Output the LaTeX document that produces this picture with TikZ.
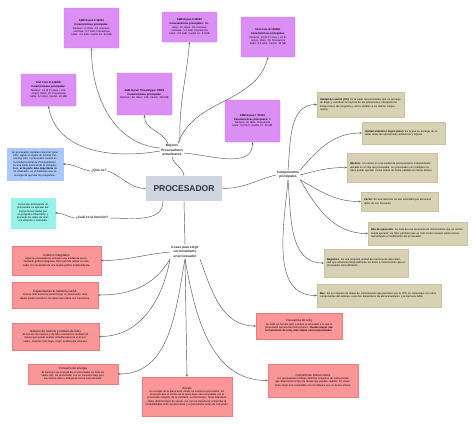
\documentclass[tikz,border=0pt]{standalone}
\usepackage{fontspec}
\setmainfont{Liberation Sans}
\usetikzlibrary{arrows.meta}
\definecolor{purpc}{RGB}{219,143,245}
\definecolor{purpd}{RGB}{196,118,228}
\definecolor{bluec}{RGB}{170,201,250}
\definecolor{cyanc}{RGB}{150,242,232}
\definecolor{tanc}{RGB}{216,210,181}
\definecolor{tand}{RGB}{200,193,160}
\definecolor{redc}{RGB}{250,150,152}
\definecolor{redd}{RGB}{236,122,124}
\definecolor{procc}{RGB}{206,213,223}
\definecolor{proct}{RGB}{45,55,70}
\definecolor{linec}{RGB}{85,85,85}
\tikzset{
  con/.style={draw=linec, line width=0.45pt, -{Stealth[length=2.4pt,width=2pt]}},
  lnk/.style={draw=linec, line width=0.45pt},
  txt/.style={font=\fontsize{2.6}{3.3}\selectfont},
  boxbase/.style={txt, rectangle, line width=0.3pt, inner xsep=3pt, inner ysep=1pt},
  pbox/.style={boxbase, fill=purpc, draw=purpd, rounded corners=0.8pt, align=center},
  bbox/.style={boxbase, fill=bluec, draw=bluec, align=center},
  cbox/.style={boxbase, fill=cyanc, draw=cyanc, align=center},
  tbox/.style={boxbase, fill=tanc, draw=tand, align=left},
  rbox/.style={boxbase, fill=redc, draw=redd, align=center},
  hub/.style={font=\fontsize{3.3}{4.2}\selectfont\bfseries, text=black!85, align=center, inner sep=1pt},
}
\begin{document}
\begin{tikzpicture}[x=1pt,y=-1pt]
\useasboundingbox (0,0) rectangle (474,424);
\fill[white] (0,0) rectangle (474,424);

% central
\node[fill=procc, minimum width=76pt, minimum height=25pt, inner sep=0pt,
      font=\fontsize{8.5}{9}\selectfont\bfseries, text=proct] (proc) at (184,188.5) {PROCESADOR};

% hubs
\node[hub] (mej) at (172,150) {Mejores\\Procesadores\\actualmente};
\node[hub] (que) at (99,171) {¿Qué es?};
\node[hub] (cual) at (92,218) {¿Cuál es la función?};
\node[hub] (comp) at (288,175) {Componentes\\principales};
\node[hub] (cosas) at (185,252) {Cosas para elegir\\correctamente\\un procesador};

% purple boxes
\node[pbox, text width=49pt, minimum height=40pt] (p1) at (91.5,28)
 {\textbf{AMD Ryzen 5 5600X}\\[0.6pt]\textbf{Características principales:}\\Núcleos: 6, Hilos: 12, Frecuencia base: 3.7 GHz, Frecuencia turbo: 4.6 GHz, Caché L3: 32 MB};
\node[pbox, text width=49pt, minimum height=30pt] (p2) at (189.5,27)
 {\textbf{AMD Ryzen 9 5950X}\\[0.6pt]\textbf{Características principales:} Núcleos: 16, Hilos: 32, Frecuencia base: 3.4 GHz, Frecuencia turbo: 4.9 GHz, Caché L3: 64 MB};
\node[pbox, text width=48pt, minimum height=40pt] (p3) at (268,37)
 {\textbf{Intel Core i9-14900K}\\[0.6pt]\textbf{Características principales:}\\Núcleos: 24 (8 P-cores + 16 E-cores), Hilos: 32, Frecuencia turbo: 6.0 GHz, Caché: 36 MB};
\node[pbox, text width=49pt, minimum height=32pt] (p4) at (48.5,90)
 {\textbf{Intel Core i5-14600K}\\[0.6pt]\textbf{Características principales:}\\Núcleos: 14 (6 P-cores + 8 E-cores), Hilos: 20, Frecuencia turbo: 5.3 GHz, Caché: 24 MB};
\node[pbox, text width=49pt, minimum height=42pt] (p5) at (144.5,94)
 {\textbf{AMD Ryzen Threadripper 7980X}\\[0.6pt]\textbf{Características principales:}\\Núcleos: 64, Hilos: 128, Caché: 256 MB};
\node[pbox, text width=49pt, minimum height=42pt] (p6) at (252.5,121)
 {\textbf{AMD Ryzen 7 5700X}\\[0.6pt]\textbf{Características principales:} 8 Núcleos, 16 Hilos, Frecuencia base: 3.4 GHz, Caché L3: 32 MB};

% left boxes
\node[bbox, text width=50pt, minimum height=32pt] (blue) at (35,164)
 {Un procesador, también conocido como CPU, siglas en inglés de Central Processing Unit, o procesador central es la Unidad Central de Procesamiento, es una parte esencial de la computadora, \textbf{es la parte más importante} de un ordenador, es el hardware que se encarga de ejecutar los programas.};
\node[cbox, text width=38pt, minimum height=30pt] (cyan) at (33,213)
 {La función principal de un procesador es ejecutar las instrucciones dadas por un programa informático y procesar los datos de manera eficiente y ordenada.};

% tan boxes
\node[tbox, text width=81pt, minimum height=25pt] (t1) at (360.5,104.5)
 {\textbf{Unidad de control (UC):} Es la parte del procesador que se encarga de dirigir y coordinar la mayoría de las operaciones, interpreta las instrucciones del programa y envía señales a los demás componentes.};
\node[tbox, text width=77pt, minimum height=22pt] (t2) at (403.5,133)
 {\textbf{Unidad aritmético lógica (ALU):} Es la que se encarga de realizar todas las operaciones aritméticas y lógicas.};
\node[tbox, text width=84pt, minimum height=29pt] (t3) at (392,167.5)
 {\textbf{Núcleos:} Un núcleo es una unidad de procesamiento independiente ubicada en el chip del procesador. Un procesador con múltiples núcleos puede ejecutar varias tareas de forma paralela al mismo tiempo.};
\node[tbox, text width=71pt, minimum height=19pt] (t4) at (399.5,201.5)
 {\textbf{Caché:} Es una memoria de alta velocidad que almacena datos de uso frecuente.};
\node[tbox, text width=93pt, minimum height=23pt] (t5) at (417.5,233.5)
 {\textbf{Hilo de ejecución:} Se trata de una secuencia de instrucciones que un núcleo puede ejecutar; los hilos permiten que un solo núcleo maneje varias tareas, aumentando el rendimiento del procesador.};
\node[tbox, text width=78pt, minimum height=28pt] (t6) at (366,263)
 {\textbf{Registros:} Es una pequeña unidad de memoria de alta velocidad que almacena temporalmente los datos e instrucciones que el procesador está utilizando.};
\node[tbox, text width=118pt, minimum height=23pt] (t7) at (379,295.5)
 {\textbf{Bus:} Es un conjunto de líneas de comunicación que permiten que la CPU se comunique con otros componentes del sistema, como los dispositivos de almacenamiento y la memoria RAM.};

% red boxes
\node[rbox, text width=83pt, minimum height=29pt] (r1) at (56.5,260.5)
 {\fontsize{3}{3.6}\selectfont Gráficos integrados\\\fontsize{2.6}{3.3}\selectfont Algunos procesadores incluyen una unidad de procesamiento gráfico integrada. Esto permite utilizar el ordenador sin necesidad de una tarjeta gráfica independiente.};
\node[rbox, text width=80pt, minimum height=26pt] (r2) at (55,295)
 {\fontsize{3}{3.6}\selectfont Capacidad de la memoria caché\\\fontsize{2.6}{3.3}\selectfont Cuanta más memoria caché tenga un procesador, más rápido podrá acceder a los datos que utiliza con frecuencia.};
\node[rbox, text width=81pt, minimum height=27pt] (r3) at (55.5,336.5)
 {\fontsize{3}{3.6}\selectfont Número de núcleos y número de hilos\\\fontsize{2.6}{3.3}\selectfont El número de núcleos y de hilos marcará la cantidad de tareas que puede realizar simultáneamente el procesador. Cuantos más haya, mejor rendimiento ofrecerá.};
\node[rbox, text width=84pt, minimum height=20pt] (r4) at (73,374)
 {\fontsize{3}{3.6}\selectfont Consumo de energía\\\fontsize{2.6}{3.3}\selectfont El consumo de energía de un procesador se mide en vatios (W). Un procesador con un consumo bajo genera menos calor y trabaja de forma más eficiente.};
\node[rbox, text width=84pt, minimum height=39pt] (r5) at (187,396.5)
 {\fontsize{3}{3.6}\selectfont Zócalo\\\fontsize{2.6}{3.3}\selectfont Es el lugar de la placa base donde se coloca el procesador. Es necesario que el zócalo de la placa base sea compatible con el procesador elegido; de lo contrario, no funcionará. Cada fabricante utiliza distintos tipos de zócalo, por eso es importante comprobar la compatibilidad entre la placa base y el procesador antes de comprarlo.};
\node[rbox, text width=80pt, minimum height=26pt] (r6) at (299,326)
 {\fontsize{3}{3.6}\selectfont Frecuencia de reloj\\\fontsize{2.6}{3.3}\selectfont Se mide en hercios (Hz) e indica la velocidad a la que el procesador ejecuta las instrucciones. \textbf{Cuanto mayor sea la frecuencia de reloj, más rápido será el procesador.}};
\node[rbox, text width=84pt, minimum height=33pt] (r7) at (313,380.5)
 {\fontsize{3}{3.6}\selectfont Conjunto de instrucciones\\\fontsize{2.6}{3.3}\selectfont Los procesadores utilizan distintos conjuntos de instrucciones que determinan el tipo de tareas que pueden realizar. Es importante elegir uno compatible con el software que se desea utilizar.};

% connectors from central
\draw[lnk] (proc.north) to[out=95,in=-80] (mej.south);
\draw[lnk] (proc.west) to[out=180,in=-20] (que.east);
\draw[lnk] ([xshift=-21pt]proc.south) to[out=-90,in=0] (cual.east);
\draw[lnk] (proc.east) to[out=0,in=195] (comp.west);
\draw[lnk] (proc.south) -- (cosas.north);

% mejores
\draw[con] ([yshift=2pt]mej.west) to[out=175,in=-90] (p1.south);
\draw[con] ([xshift=8pt]mej.north) to[out=92,in=-95] (p2.south);
\draw[con] ([xshift=6pt]mej.north) to[out=70,in=-105] (p3.south);
\draw[con] ([yshift=-1pt]mej.west) to[out=190,in=-80] (p4.south);
\draw[con] ([xshift=-4pt]mej.north) to[out=115,in=-90] (p5.south);
\draw[con] ([yshift=-3pt]mej.east) to[out=-5,in=-90] (p6.south);

% que / cual
\draw[con] (que.west) to[out=170,in=0] (blue.east);
\draw[con] (cual.west) to[out=170,in=0] (cyan.east);

% componentes
\draw[con] (comp.north) to[out=85,in=180] (t1.west);
\draw[con] (comp.north east) to[out=50,in=180] (t2.west);
\draw[con] (comp.east) to[out=15,in=180] (t3.west);
\draw[con] (comp.south east) to[out=-30,in=180] (t4.west);
\draw[con] (comp.south east) to[out=-60,in=180] (t5.west);
\draw[con] (comp.south) to[out=-85,in=180] (t6.west);
\draw[con] (comp.south) to[out=-95,in=180] (t7.west);

% cosas
\draw[con] (cosas.west) to[out=185,in=0] (r1.east);
\draw[con] (cosas.south west) to[out=-120,in=0] (r2.east);
\draw[con] (cosas.south west) to[out=-100,in=0] (r3.east);
\draw[con] (cosas.south) to[out=-100,in=0] (r4.east);
\draw[con] (cosas.south) -- (r5.north);
\draw[con] (cosas.south east) to[out=-70,in=180] (r6.west);
\draw[con] (cosas.south) to[out=-80,in=180] (r7.west);
\end{tikzpicture}
\end{document}
